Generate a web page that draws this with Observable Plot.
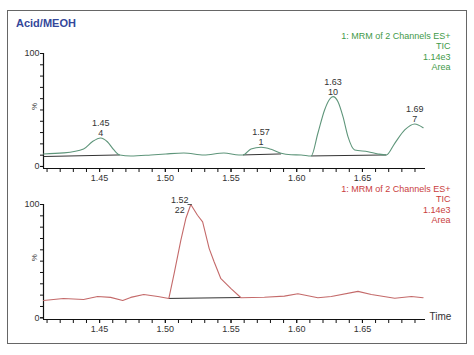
<!DOCTYPE html>
<html>
<head>
<meta charset="utf-8">
<script src="https://cdn.jsdelivr.net/npm/d3@7"></script>
<script src="https://cdn.jsdelivr.net/npm/@observablehq/plot@0.6"></script>
<style>
  html, body { margin: 0; padding: 0; background: #fff; }
  #root { position: relative; width: 474px; height: 355px; overflow: hidden; font-family: "Liberation Sans", Arial, sans-serif; }
  #frame { position: absolute; left: 7px; top: 10px; width: 458px; height: 332px; border: 1px solid #666; pointer-events: none; }
  #title { position: absolute; left: 16px; top: 17px; font-size: 11px; font-weight: bold; color: #34479a; }
  .panel { position: absolute; left: 0; }
</style>
</head>
<body>
<div id="root">
  <div id="frame"></div>
  <div id="title">Acid/MEOH</div>
  <div id="top" class="panel" style="top:0px"></div>
  <div id="bottom" class="panel" style="top:180px"></div>
</div>
<script>
// ---- data ----
const topTime = [1.4073, 1.4225, 1.4378, 1.4444, 1.4508, 1.4559, 1.4609, 1.4653, 1.4737, 1.489, 1.5004, 1.5141, 1.5294, 1.5446, 1.556, 1.5591, 1.5652, 1.5729, 1.5805, 1.5881, 1.5957, 1.6034, 1.611, 1.6161, 1.6212, 1.625, 1.6276, 1.6314, 1.6352, 1.639, 1.6441, 1.6543, 1.6619, 1.6682, 1.6746, 1.6822, 1.6898, 1.6962];
const topPct  = [11.1, 12.0, 15.5, 21.9, 25.2, 21.9, 14.6, 10.2, 9.3, 10.2, 11.1, 11.9, 10.2, 11.9, 10.2, 10.2, 15.5, 17.0, 15.2, 11.7, 10.4, 10.2, 9.3, 29.4, 50.0, 59.5, 61.8, 57.3, 44.1, 26.4, 14.6, 13.1, 11.1, 10.2, 20.5, 32.3, 37.6, 34.3];

const bottomTime = [1.4073, 1.4225, 1.4378, 1.4485, 1.4584, 1.4676, 1.4737, 1.4836, 1.4943, 1.5027, 1.5067, 1.5118, 1.5156, 1.5194, 1.5245, 1.5284, 1.5334, 1.5372, 1.5423, 1.55, 1.5576, 1.5754, 1.5906, 1.6009, 1.6161, 1.6263, 1.6466, 1.6568, 1.6746, 1.6873, 1.6962];
const bottomPct  = [15.3, 17.1, 16.2, 18.8, 18.0, 15.3, 18.0, 20.6, 18.8, 17.1, 38.9, 68.4, 87.6, 100, 90.5, 84.6, 61.1, 49.2, 34.5, 25.7, 17.7, 18.2, 19.1, 21.2, 17.7, 18.8, 23.3, 20.6, 17.3, 18.8, 17.7];

// peak annotations: retention time, height (%), label lines
const topPeakTime  = [1.4508, 1.5729, 1.6276, 1.6898];
const topPeakPct   = [25.2, 17.0, 61.8, 37.6];
const topPeakLabel = ["1.45\n4", "1.57\n1", "1.63\n10", "1.69\n7"];

const bottomPeakTime  = [1.5194];
const bottomPeakPct   = [100];
const bottomPeakLabel = ["1.52\n22"];

// integration baselines [t1, pct1, t2, pct2]
const topBaselines = [[1.4073, 8.8, 1.4653, 10.2], [1.5591, 10.2, 1.5881, 11.1], [1.611, 9.3, 1.6682, 10.2]];
const bottomBaselines = [[1.5027, 17.1, 1.5576, 17.9]];

const topLegend = ["1: MRM of 2 Channels ES+", "TIC", "1.14e3", "Area"];
const bottomLegend = ["1: MRM of 2 Channels ES+", "TIC", "1.14e3", "Area"];

const xMajorTicks = [1.45, 1.50, 1.55, 1.60, 1.65];
const xTickLabels = ["1.45", "1.50", "1.55", "1.60", "1.65"];
const xMinorTicks = d3.range(141, 170).map(d => d / 100);
const yMajorTicks = [0, 100];
const yTickLabels = ["0", "100"];
const yMinorTicks = d3.range(0, 101, 10);
const yUnitLabel = "%";
const xAxisLabel = "Time";

const xDomain = [1.4073, 1.698];

function panel({time, pct, peakT, peakP, peakL, baselines, legend, lineColor, textColor, height, marginTop, yMin, legendDy, curve, sideLabel, showTime}) {
  const series = time.map((t, i) => ({t, p: pct[i]}));
  const peaks = peakT.map((t, i) => ({t, p: peakP[i], label: peakL[i]}));
  const bl = baselines.map(([t1, p1, t2, p2]) => ({t1, p1, t2, p2}));
  const marks = [
    Plot.ruleY([yMin], {stroke: "#111", strokeWidth: 1.2}),
    Plot.ruleX([xDomain[0]], {stroke: "#111", strokeWidth: 1.2}),
    Plot.axisX(xMinorTicks, {tickSize: 4, tickFormat: () => "", label: null, stroke: "#111"}),
    Plot.axisX(xMajorTicks, {tickSize: 4, tickPadding: 2, label: null, stroke: "#111", fill: "#333", fontSize: 9,
      tickFormat: d => xTickLabels[xMajorTicks.indexOf(d)]}),
    Plot.axisY(yMinorTicks, {tickSize: 3, tickFormat: () => "", label: null, stroke: "#111"}),
    Plot.axisY(yMajorTicks, {tickSize: 3, tickPadding: 1, label: null, stroke: "#111", fill: "#333", fontSize: 9,
      tickFormat: d => yTickLabels[yMajorTicks.indexOf(d)]}),
    Plot.text([50], {y: d => d, frameAnchor: "left", dx: -9, rotate: -90, text: () => yUnitLabel, fontSize: 8, fill: "#333"}),
    Plot.link(bl, {x1: "t1", y1: "p1", x2: "t2", y2: "p2", stroke: "#333", strokeWidth: 1}),
    Plot.line(series, {x: "t", y: "p", stroke: lineColor, strokeWidth: 1.1, curve}),
    Plot.text([legend.join("\n")], {frameAnchor: "top-right", text: d => d, textAnchor: "end", lineAnchor: "top",
      lineHeight: 1.15, dx: 25, dy: legendDy, fill: textColor, fontSize: 9})
  ];
  if (sideLabel) {
    marks.push(
      Plot.link(peaks, {x1: d => d.t - 0.0025, x2: d => d.t + 0.0008, y1: "p", y2: "p", stroke: "#555", strokeWidth: 1}),
      Plot.text(peaks, {x: "t", y: "p", text: "label", lineAnchor: "middle", textAnchor: "middle", dx: -11, dy: 0,
        lineHeight: 1.2, fill: "#333", fontSize: 9})
    );
  } else {
    marks.push(
      Plot.text(peaks, {x: "t", y: "p", text: "label", lineAnchor: "bottom", dy: -2, lineHeight: 1.1, fill: "#333", fontSize: 9})
    );
  }
  if (showTime) {
    marks.push(Plot.text([xAxisLabel], {frameAnchor: "bottom-right", text: d => d, textAnchor: "start", dx: 4, dy: 0,
      fill: "#333", fontSize: 10}));
  }
  return Plot.plot({
    width: 474,
    height,
    marginLeft: 43,
    marginRight: 49,
    marginTop,
    marginBottom: 16,
    style: {background: "transparent", fontFamily: "'Liberation Sans', Arial, sans-serif", overflow: "visible"},
    x: {domain: xDomain, axis: null},
    y: {domain: [yMin, 100], axis: null},
    marks
  });
}

document.getElementById("top").appendChild(panel({
  time: topTime, pct: topPct, peakT: topPeakTime, peakP: topPeakPct, peakL: topPeakLabel,
  baselines: topBaselines, legend: topLegend, lineColor: "#5e957a", textColor: "#3f9a49",
  height: 184, marginTop: 53, yMin: -1.8, legendDy: -22, curve: "monotone-x", sideLabel: false, showTime: false
}));
document.getElementById("bottom").appendChild(panel({
  time: bottomTime, pct: bottomPct, peakT: bottomPeakTime, peakP: bottomPeakPct, peakL: bottomPeakLabel,
  baselines: bottomBaselines, legend: bottomLegend, lineColor: "#c46a6a", textColor: "#c93d3d",
  height: 155, marginTop: 24, yMin: -1.5, legendDy: -20, curve: "linear", sideLabel: true, showTime: true
}));
</script>
</body>
</html>
